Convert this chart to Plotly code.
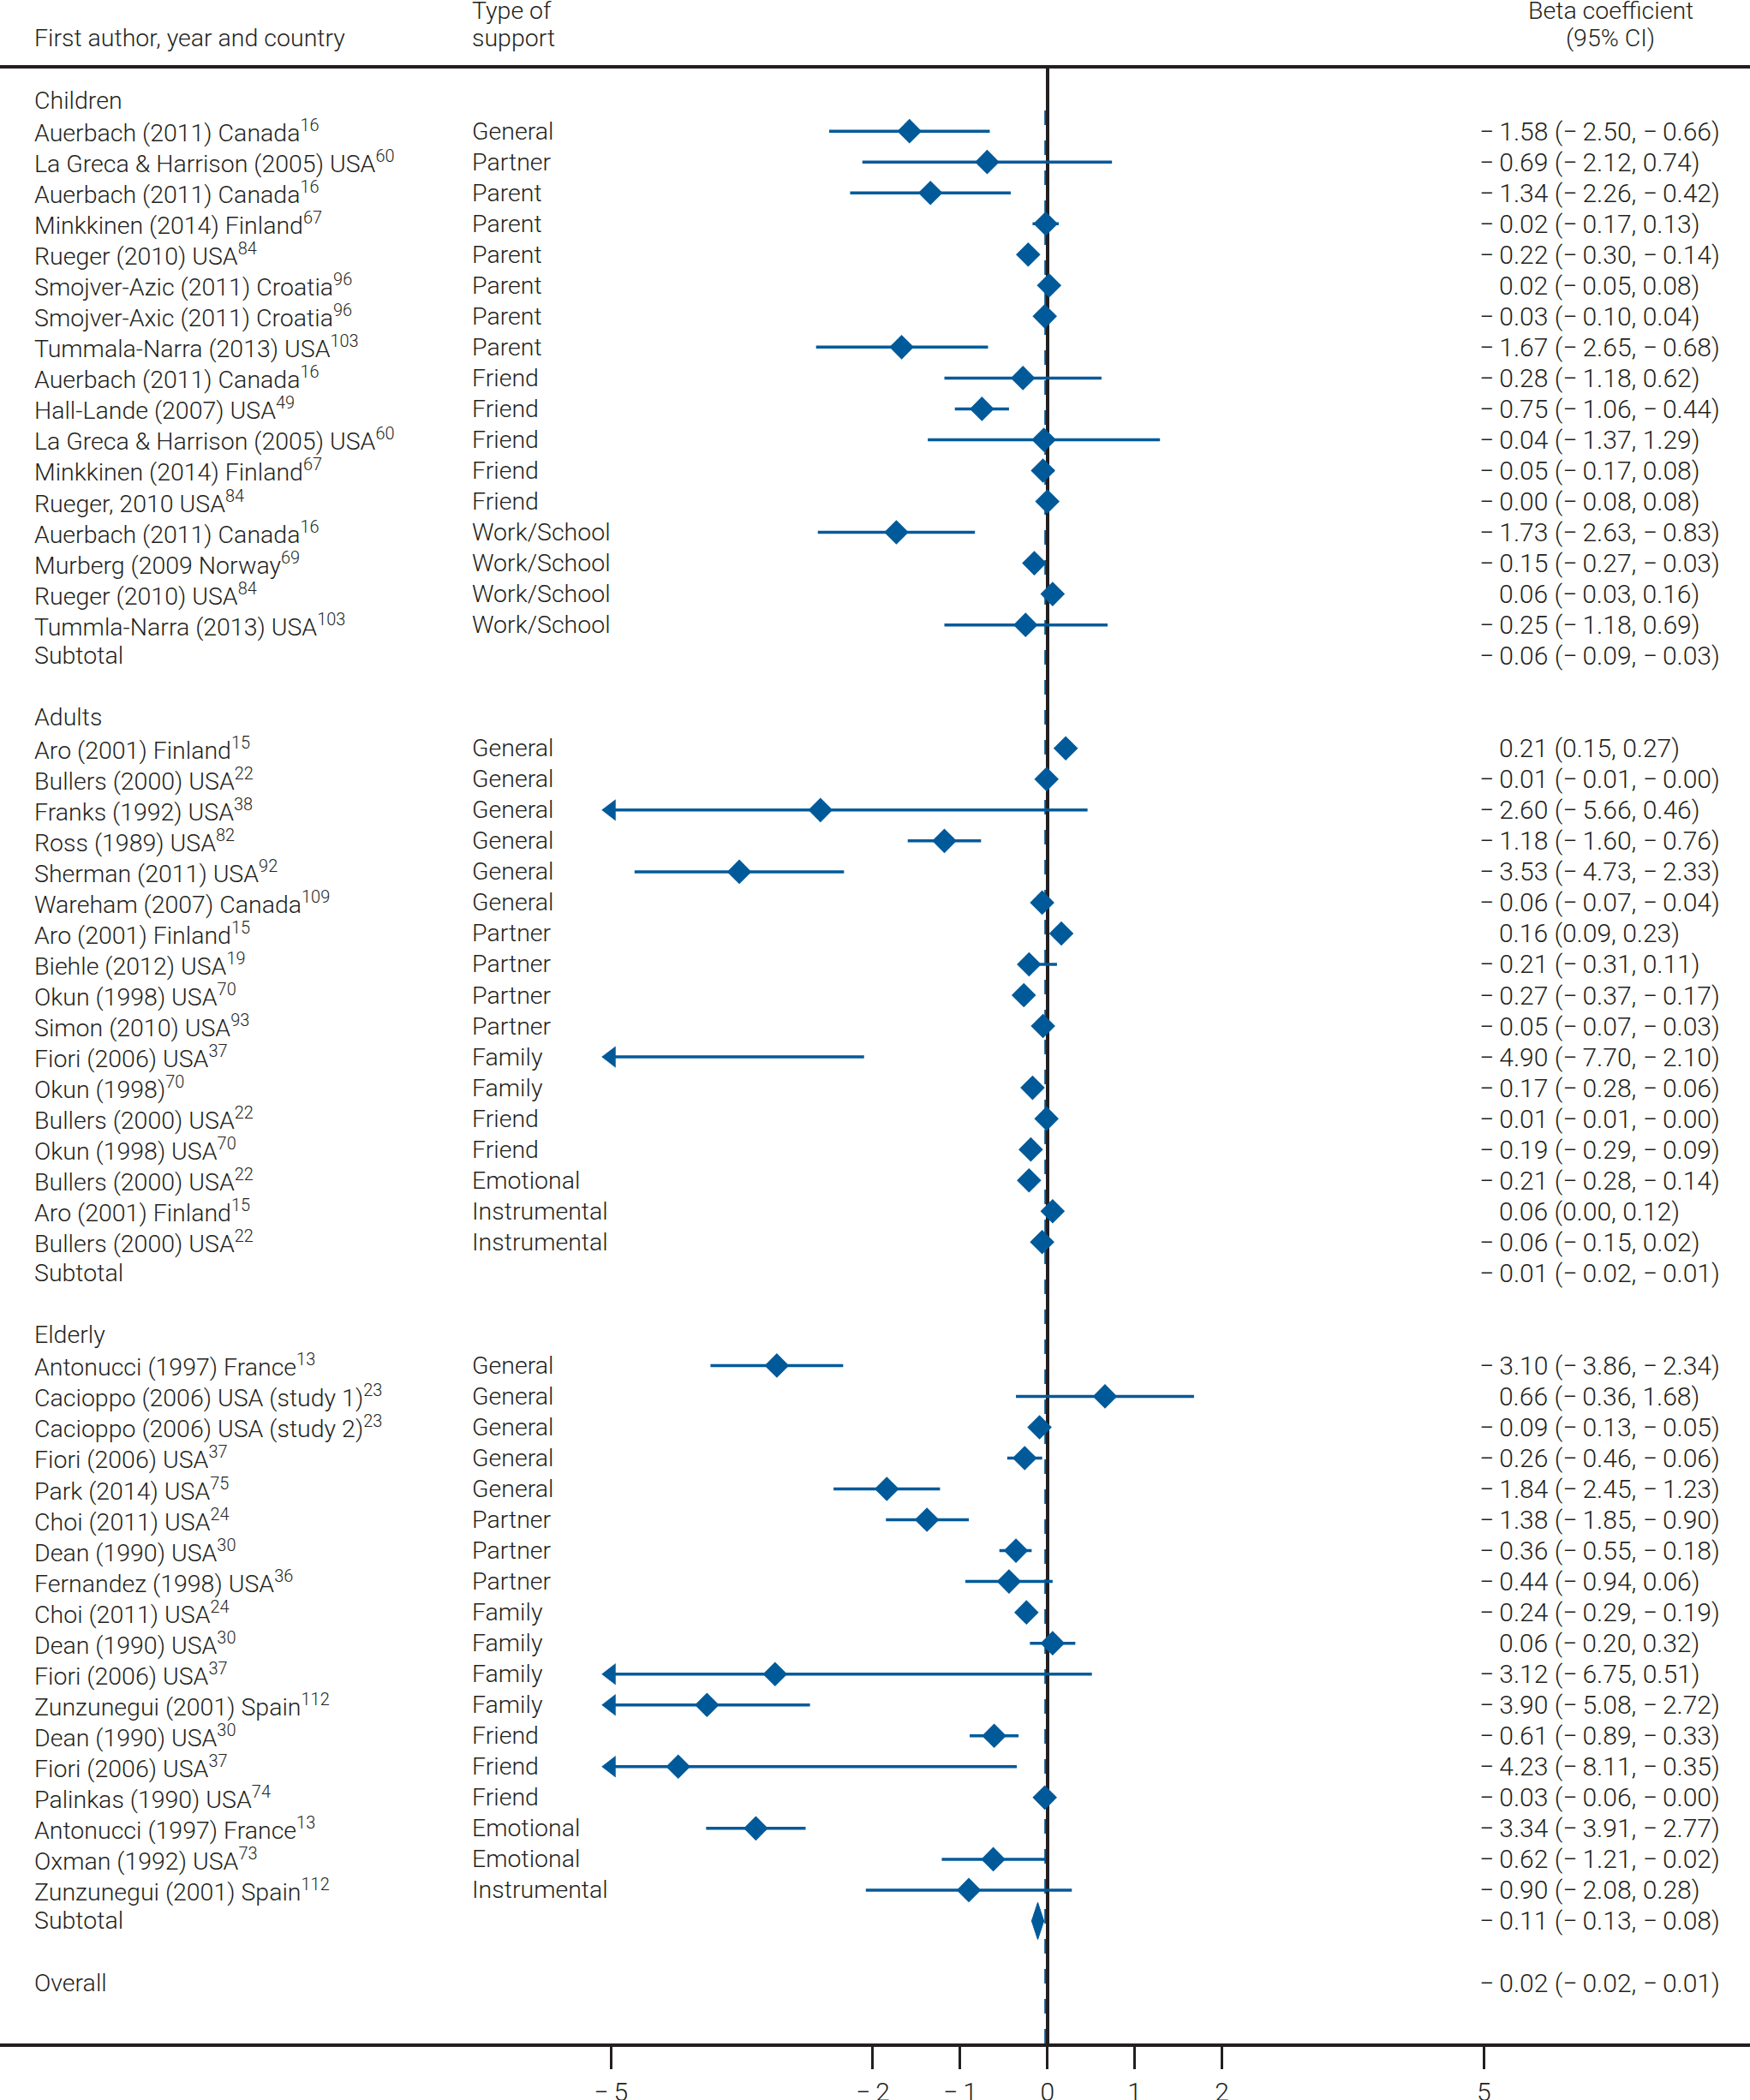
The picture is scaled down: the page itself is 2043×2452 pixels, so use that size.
import plotly.graph_objects as go

# ---------------- data ----------------
children_study = ["Auerbach (2011) Canada", "La Greca & Harrison (2005) USA", "Auerbach (2011) Canada",
                  "Minkkinen (2014) Finland", "Rueger (2010) USA", "Smojver-Azic (2011) Croatia",
                  "Smojver-Axic (2011) Croatia", "Tummala-Narra (2013) USA", "Auerbach (2011) Canada",
                  "Hall-Lande (2007) USA", "La Greca & Harrison (2005) USA", "Minkkinen (2014) Finland",
                  "Rueger, 2010 USA", "Auerbach (2011) Canada", "Murberg (2009 Norway",
                  "Rueger (2010) USA", "Tummla-Narra (2013) USA"]
children_ref = ["16", "60", "16", "67", "84", "96", "96", "103", "16", "49", "60", "67", "84", "16", "69", "84", "103"]
children_support = ["General", "Partner", "Parent", "Parent", "Parent", "Parent", "Parent", "Parent",
                    "Friend", "Friend", "Friend", "Friend", "Friend", "Work/School", "Work/School",
                    "Work/School", "Work/School"]
children_est = [-1.58, -0.69, -1.34, -0.02, -0.22, 0.02, -0.03, -1.67, -0.28, -0.75, -0.04, -0.05, -0.00, -1.73, -0.15, 0.06, -0.25]
children_lo = [-2.50, -2.12, -2.26, -0.17, -0.30, -0.05, -0.10, -2.65, -1.18, -1.06, -1.37, -0.17, -0.08, -2.63, -0.27, -0.03, -1.18]
children_hi = [-0.66, 0.74, -0.42, 0.13, -0.14, 0.08, 0.04, -0.68, 0.62, -0.44, 1.29, 0.08, 0.08, -0.83, -0.03, 0.16, 0.69]
children_subtotal = [-0.06, -0.09, -0.03]

adults_study = ["Aro (2001) Finland", "Bullers (2000) USA", "Franks (1992) USA", "Ross (1989) USA",
                "Sherman (2011) USA", "Wareham (2007) Canada", "Aro (2001) Finland", "Biehle (2012) USA",
                "Okun (1998) USA", "Simon (2010) USA", "Fiori (2006) USA", "Okun (1998)",
                "Bullers (2000) USA", "Okun (1998) USA", "Bullers (2000) USA", "Aro (2001) Finland",
                "Bullers (2000) USA"]
adults_ref = ["15", "22", "38", "82", "92", "109", "15", "19", "70", "93", "37", "70", "22", "70", "22", "15", "22"]
adults_support = ["General", "General", "General", "General", "General", "General", "Partner", "Partner",
                  "Partner", "Partner", "Family", "Family", "Friend", "Friend", "Emotional",
                  "Instrumental", "Instrumental"]
adults_est = [0.21, -0.01, -2.60, -1.18, -3.53, -0.06, 0.16, -0.21, -0.27, -0.05, -4.90, -0.17, -0.01, -0.19, -0.21, 0.06, -0.06]
adults_lo = [0.15, -0.01, -5.66, -1.60, -4.73, -0.07, 0.09, -0.31, -0.37, -0.07, -7.70, -0.28, -0.01, -0.29, -0.28, 0.00, -0.15]
adults_hi = [0.27, -0.00, 0.46, -0.76, -2.33, -0.04, 0.23, 0.11, -0.17, -0.03, -2.10, -0.06, -0.00, -0.09, -0.14, 0.12, 0.02]
adults_subtotal = [-0.01, -0.02, -0.01]

elderly_study = ["Antonucci (1997) France", "Cacioppo (2006) USA (study 1)", "Cacioppo (2006) USA (study 2)",
                 "Fiori (2006) USA", "Park (2014) USA", "Choi (2011) USA", "Dean (1990) USA",
                 "Fernandez (1998) USA", "Choi (2011) USA", "Dean (1990) USA", "Fiori (2006) USA",
                 "Zunzunegui (2001) Spain", "Dean (1990) USA", "Fiori (2006) USA", "Palinkas (1990) USA",
                 "Antonucci (1997) France", "Oxman (1992) USA", "Zunzunegui (2001) Spain"]
elderly_ref = ["13", "23", "23", "37", "75", "24", "30", "36", "24", "30", "37", "112", "30", "37", "74", "13", "73", "112"]
elderly_support = ["General", "General", "General", "General", "General", "Partner", "Partner", "Partner",
                   "Family", "Family", "Family", "Family", "Friend", "Friend", "Friend", "Emotional",
                   "Emotional", "Instrumental"]
elderly_est = [-3.10, 0.66, -0.09, -0.26, -1.84, -1.38, -0.36, -0.44, -0.24, 0.06, -3.12, -3.90, -0.61, -4.23, -0.03, -3.34, -0.62, -0.90]
elderly_lo = [-3.86, -0.36, -0.13, -0.46, -2.45, -1.85, -0.55, -0.94, -0.29, -0.20, -6.75, -5.08, -0.89, -8.11, -0.06, -3.91, -1.21, -2.08]
elderly_hi = [-2.34, 1.68, -0.05, -0.06, -1.23, -0.90, -0.18, 0.06, -0.19, 0.32, 0.51, -2.72, -0.33, -0.35, -0.00, -2.77, -0.02, 0.28]
elderly_subtotal = [-0.11, -0.13, -0.08]

overall = [-0.02, -0.02, -0.01]

group_names = ["Children", "Adults", "Elderly"]
x_ticks = [-5, -2, -1, 0, 1, 2, 5]
x_ticktext = ["\u2212\u20095", "\u2212\u20092", "\u2212\u20091", "0", "1", "2", "5"]
x_floor = -5

# ---------------- style ----------------
BLUE = "#005a9a"
INK = "#231f20"
FONT = "Roboto, sans-serif"
FS = 28.5
FS_CI = 30
W = 300
X_AUTHOR, X_SUPPORT, X_CI = 38 / 2043, 549 / 2043, 1725 / 2043


def fmt(v):
    s = f"{v:.2f}"
    return s.replace("-", "\u2212\u2009")


def ci_text(e, lo, hi):
    t = f"{fmt(e)} ({fmt(lo)}, {fmt(hi)})"
    if not t.startswith("\u2212"):
        t = "\u2007\u2009" + t
    return t


groups = [
    (children_study, children_ref, children_support, children_est, children_lo, children_hi, children_subtotal, False),
    (adults_study, adults_ref, adults_support, adults_est, adults_lo, adults_hi, adults_subtotal, False),
    (elderly_study, elderly_ref, elderly_support, elderly_est, elderly_lo, elderly_hi, elderly_subtotal, True),
]

annotations = []
line_x, line_y = [], []
pt_x, pt_y = [], []
arr_x, arr_y = [], []
sub_x, sub_y = [], []


def label(x, y, text, anchor="left", size=FS):
    annotations.append(dict(x=x, y=y, xref="paper", yref="y", text=text, showarrow=False,
                            xanchor=anchor, yanchor="middle",
                            font=dict(family=FONT, size=size, color=INK, weight=W)))


row = 0
for gname, (study, ref, sup, est, lo, hi, subtot, show_sub) in zip(group_names, groups):
    label(X_AUTHOR, row, gname)
    row += 1
    for s, r, t, e, l, h in zip(study, ref, sup, est, lo, hi):
        label(X_AUTHOR, row, f"{s}<sup>{r}</sup>")
        label(X_SUPPORT, row, t)
        label(X_CI, row, ci_text(e, l, h), size=FS_CI)
        lc = max(l, x_floor)
        line_x += [lc, h, None]
        line_y += [row, row, None]
        # estimate hidden under the truncation arrow when it sits right at the axis floor
        if e - x_floor > 0.2:
            pt_x.append(e)
            pt_y.append(row)
        if l < x_floor:
            arr_x.append(x_floor)
            arr_y.append(row)
        row += 1
    label(X_AUTHOR, row, "Subtotal")
    label(X_CI, row, ci_text(*subtot), size=FS_CI)
    if show_sub:
        e = subtot[0]
        hw, hh = 0.07, 0.6
        sub_x += [e - hw, e, e + hw, e, e - hw, None]
        sub_y += [row, row - hh, row, row + hh, row, None]
    row += 2

label(X_AUTHOR, row, "Overall")
label(X_CI, row, ci_text(*overall), size=FS_CI)

fig = go.Figure()
fig.add_trace(go.Scatter(x=line_x, y=line_y, mode="lines", line=dict(color=BLUE, width=3.5),
                         hoverinfo="skip", showlegend=False))
fig.add_trace(go.Scatter(x=pt_x, y=pt_y, mode="markers",
                         marker=dict(symbol="diamond", size=22, color=BLUE, line=dict(width=0)),
                         showlegend=False))
fig.add_trace(go.Scatter(x=arr_x, y=arr_y, mode="markers",
                         marker=dict(symbol="triangle-left", size=22, color=BLUE, line=dict(width=0)),
                         hoverinfo="skip", showlegend=False))
fig.add_trace(go.Scatter(x=sub_x, y=sub_y, mode="lines", fill="toself", fillcolor=BLUE,
                         line=dict(color=BLUE, width=1), hoverinfo="skip", showlegend=False))

# dashed line at the overall estimate
fig.add_shape(type="line", xref="x", yref="paper", x0=overall[0], x1=overall[0], y0=0, y1=0.986,
              line=dict(color=BLUE, width=3, dash="17px,18px"), layer="below")

# header texts
hdr_font = dict(family=FONT, size=FS, color=INK, weight=W)
annotations += [
    dict(x=X_AUTHOR, y=1.0152, xref="paper", yref="paper", text="First author, year and country",
         showarrow=False, xanchor="left", yanchor="middle", font=hdr_font),
    dict(x=X_SUPPORT, y=1.0291, xref="paper", yref="paper", text="Type of",
         showarrow=False, xanchor="left", yanchor="middle", font=hdr_font),
    dict(x=X_SUPPORT, y=1.0152, xref="paper", yref="paper", text="support",
         showarrow=False, xanchor="left", yanchor="middle", font=hdr_font),
    dict(x=1880 / 2043, y=1.0291, xref="paper", yref="paper", text="Beta coefficient",
         showarrow=False, xanchor="center", yanchor="middle", font=hdr_font),
    dict(x=1880 / 2043, y=1.0152, xref="paper", yref="paper", text="(95% CI)",
         showarrow=False, xanchor="center", yanchor="middle", font=hdr_font),
]

fig.update_layout(
    width=2043, height=2452,
    margin=dict(l=0, r=0, t=80, b=66),
    paper_bgcolor="white", plot_bgcolor="white",
    annotations=annotations,
    xaxis=dict(range=[-12.0, 8.05], tickvals=x_ticks, ticktext=x_ticktext,
               ticks="outside", ticklen=26, tickwidth=2.5, tickcolor=INK,
               ticklabelstandoff=1, automargin=False,
               showline=True, linewidth=4, linecolor=INK, mirror=True,
               showgrid=False, zeroline=True, zerolinecolor=INK, zerolinewidth=4,
               tickfont=dict(family=FONT, size=FS_CI, color=INK, weight=W), fixedrange=True),
    yaxis=dict(range=[62.97, -1.03], visible=False, fixedrange=True, automargin=False),
    showlegend=False,
)

fig.write_html("out.html")
